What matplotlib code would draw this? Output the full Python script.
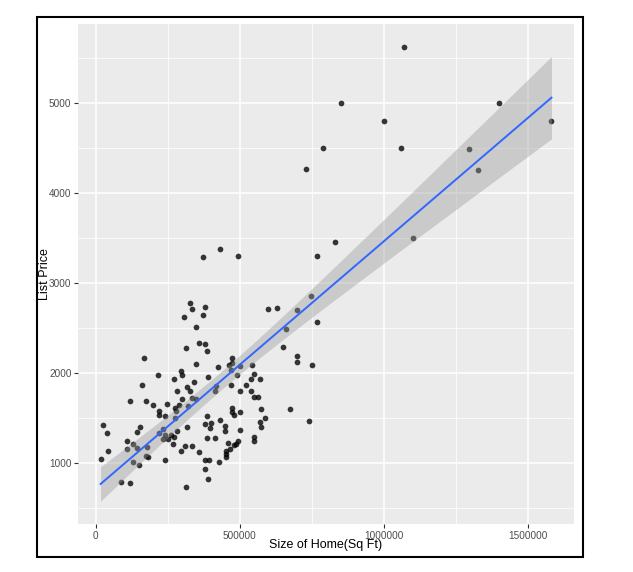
import matplotlib
matplotlib.use("Agg")
import matplotlib.pyplot as plt
from matplotlib.patches import Rectangle
import numpy as np

plt.rcParams['font.family'] = ['Liberation Sans', 'DejaVu Sans']

# size of home (x) and list price (y)
size_sqft = [
    314900, 360100, 380900, 387800, 167700, 348300, 296200, 298600, 217700, 388900,
    273300, 341300, 159700, 318400, 327400, 283700, 118100, 173600, 301000, 334400,
    348300, 249000, 288200, 199000, 276700, 320500, 218800, 278800, 218800, 239600,
    276700, 385400, 401700, 378500, 24300, 153800, 318400, 396900, 232600, 281300,
    38200, 144800, 218800, 242000, 260400, 271900, 235100, 251000, 387800, 108700,
    128500, 267400, 309000, 334400, 144800, 108700, 179500, 295100, 42700, 360100,
    174700, 181600, 17400, 239600, 378500, 394800, 128500, 149300, 378500, 389900,
    89200, 119100, 313500, 649300, 698900, 698900, 750000, 474700, 462800, 472200,
    423600, 469800, 500000, 544100, 548600, 490600, 539200, 569400, 469800, 520800,
    416700, 414200, 500000, 539200, 548600, 564900, 574000, 676000, 474700, 472200,
    481600, 500000, 587800, 740600, 569400, 574000, 430600, 449000, 449000, 500000,
    414200, 551000, 551000, 495500, 460800, 488500, 479200, 467700, 451400, 451400,
    451400, 428100, 374000, 430600, 494100, 326400, 333300, 379500, 306600, 374000,
    348300, 598300, 830900, 769800, 749000, 629500, 698900, 769800, 660800, 1069400,
    850700, 1400300, 1000000, 1582300, 789200, 1059000, 1296200, 1326400, 729200, 1100700,
]
list_price = [
    2283, 2339, 2328, 2239, 2164, 2098, 2017, 1980, 1972, 1958,
    1928, 1898, 1869, 1847, 1802, 1794, 1683, 1691, 1713, 1720,
    1713, 1653, 1647, 1639, 1609, 1631, 1580, 1580, 1536, 1520,
    1498, 1520, 1447, 1431, 1417, 1402, 1398, 1383, 1372, 1358,
    1328, 1342, 1336, 1313, 1306, 1291, 1269, 1261, 1280, 1239,
    1209, 1209, 1187, 1187, 1164, 1150, 1180, 1136, 1128, 1120,
    1076, 1061, 1047, 1028, 1028, 1028, 1009, 972, 928, 817,
    787, 772, 736, 2294, 2194, 2120, 2091, 2172, 2091, 2106,
    2069, 2031, 2076, 2091, 1994, 1980, 1936, 1928, 1869, 1861,
    1853, 1802, 1794, 1794, 1736, 1728, 1594, 1594, 1609, 1564,
    1536, 1564, 1498, 1461, 1453, 1394, 1476, 1409, 1350, 1364,
    1276, 1291, 1239, 1247, 1224, 1209, 1194, 1158, 1128, 1098,
    1069, 1009, 3287, 3376, 3306, 2783, 2713, 2739, 2620, 2650,
    2509, 2717, 3458, 3302, 2853, 2724, 2702, 2569, 2491, 5631,
    5009, 5009, 4809, 4809, 4505, 4505, 4494, 4258, 4269, 3502,
]

x_ticks = [0, 500000, 1000000, 1500000]
y_ticks = [1000, 2000, 3000, 4000, 5000]

x = np.array(size_sqft, dtype=float)
y = np.array(list_price, dtype=float)

# linear fit + 95% confidence band (like geom_smooth(method="lm"))
n = len(x)
slope, intercept = np.polyfit(x, y, 1)
resid = y - (intercept + slope * x)
s = np.sqrt(np.sum(resid**2) / (n - 2))
xbar = x.mean()
sxx = np.sum((x - xbar)**2)
t_crit = 1.976
xs = np.linspace(x.min(), x.max(), 80)
ys = intercept + slope * xs
half = t_crit * s * np.sqrt(1.0 / n + (xs - xbar)**2 / sxx)

fig = plt.figure(figsize=(6.33, 5.72), dpi=100)
ax = fig.add_axes([78/633, 48/572, 496/633, 500/572])
ax.set_facecolor('#EBEBEB')

ax.scatter(x, y, s=17, color='black', alpha=0.78, linewidths=0, zorder=2)
ax.fill_between(xs, ys - half, ys + half, color='#999999', alpha=0.4,
                linewidth=0, zorder=3)
ax.plot(xs, ys, color='#3366FF', lw=1.4, zorder=4)

# ggplot-like limits with 5% expansion
lo = min(y.min(), (ys - half).min())
hi = max(y.max(), (ys + half).max())
ax.set_xlim(x.min() - 0.05 * (x.max() - x.min()), x.max() + 0.05 * (x.max() - x.min()))
ax.set_ylim(lo - 0.05 * (hi - lo), hi + 0.05 * (hi - lo))

ax.set_xticks(x_ticks)
ax.set_xticklabels([str(v) for v in x_ticks])
ax.set_yticks(y_ticks)
ax.set_yticklabels([str(v) for v in y_ticks])
ax.set_xticks([250000, 750000, 1250000], minor=True)
ax.set_yticks([500, 1500, 2500, 3500, 4500, 5500], minor=True)

ax.grid(which='major', color='white', lw=1.1, zorder=0)
ax.grid(which='minor', color='white', lw=0.55, zorder=0)
ax.set_axisbelow(True)
for sp in ax.spines.values():
    sp.set_visible(False)
ax.tick_params(which='major', length=2.7, width=0.8, color='#333333',
               labelcolor='#4D4D4D', labelsize=7.2, pad=2)
ax.tick_params(which='minor', length=0)

ax.set_xlabel('Size of Home(Sq Ft)', fontsize=9, color='black')
ax.set_ylabel('List Price', fontsize=9, color='black')
ax.xaxis.set_label_coords(0.5, -0.03)
ax.yaxis.set_label_coords(-0.055, 0.5)

# outer black frame around the picture
fig.patches.append(Rectangle((37/633, 15/572), 546/633, 540/572,
                             transform=fig.transFigure, fill=False,
                             edgecolor='black', lw=1.5))

fig.savefig('out.png', dpi=100, facecolor='white')
